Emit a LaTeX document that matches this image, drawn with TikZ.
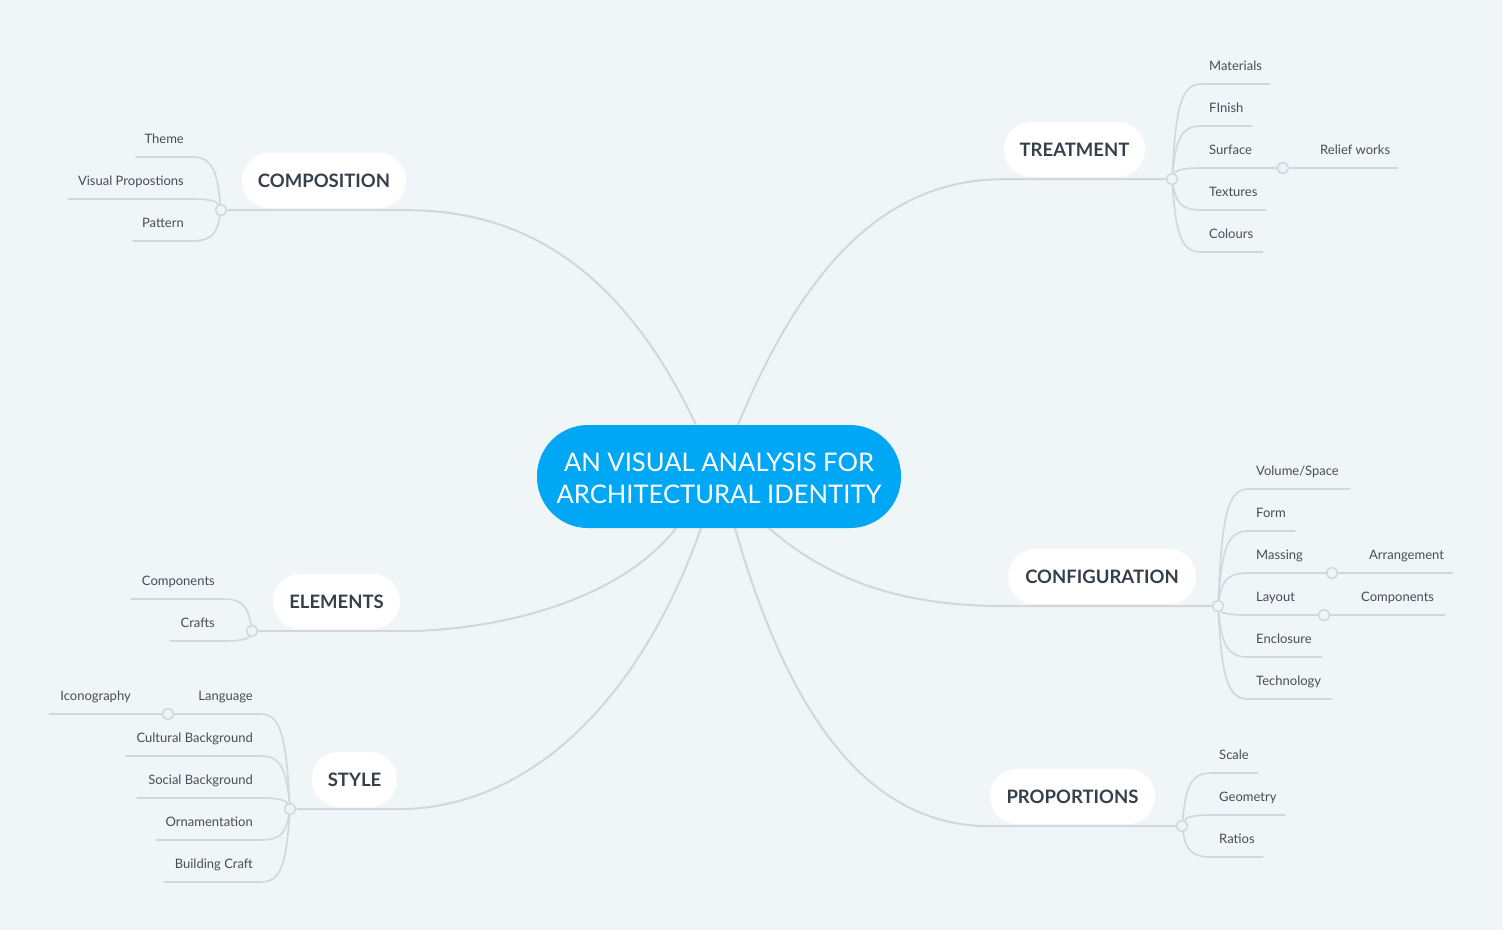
\documentclass[tikz,border=0pt]{standalone}
\usepackage{fontspec}
\setmainfont{Lato}
\usetikzlibrary{calc}
\definecolor{bgc}{HTML}{F0F5F8}
\definecolor{linec}{HTML}{D2D7DB}
\definecolor{ctrc}{HTML}{00A7F5}
\definecolor{headc}{HTML}{36404A}
\definecolor{leafc}{HTML}{454E57}
\pgfdeclarelayer{lines}
\pgfsetlayers{lines,main}
\tikzset{
  conn/.style={draw=linec, line width=1.6pt},
  mconn/.style={draw=linec, line width=2pt},
  junc/.style={circle, draw=linec, fill=bgc, line width=1.5pt, minimum size=11pt, inner sep=0pt},
  rleaf/.style={anchor=south west, inner xsep=8pt, inner ysep=13.5pt, text depth=0pt, text height=9pt, font=\fontsize{13}{15}\selectfont, text=leafc},
  lleaf/.style={rleaf, anchor=south east},
  ctr/.style={fill=ctrc, rounded corners=51pt, minimum width=364pt, minimum height=103pt, inner sep=0pt},
  ctrtext/.style={text=white, align=center, inner sep=0pt, yshift=-2pt, font=\fontsize{25.6}{32}\selectfont},
  head/.style={fill=white, rounded corners=27pt, minimum height=55pt, inner sep=0pt, text=headc, font=\bfseries\fontsize{18.5}{20}\selectfont}
}
\begin{document}
\begin{tikzpicture}[x=1pt,y=-1pt]
\useasboundingbox (0,0) rectangle (1503,930);
\begin{pgfonlayer}{lines}
\fill[bgc] (0,0) rectangle (1503,930);
\end{pgfonlayer}

% central node
\node[ctr, label={[ctrtext]center:AN VISUAL ANALYSIS FOR\\ARCHITECTURAL IDENTITY}] (c) at (719,476.5) {};

% headings
\node[head, minimum width=164pt] (hcomp) at (324,180.5) {COMPOSITION};
\node[head, minimum width=141pt] (htreat) at (1074.5,149.5) {TREATMENT};
\node[head, minimum width=188pt] (hconf) at (1102,576.5) {CONFIGURATION};
\node[head, minimum width=165pt] (hprop) at (1072.5,796.5) {PROPORTIONS};
\node[head, minimum width=127pt] (helem) at (336.5,601.5) {ELEMENTS};
\node[head, minimum width=85pt] (hstyle) at (354.5,779.5) {STYLE};

% junctions
\node[junc] (J1) at (1172,179) {};
\node[junc] (J2) at (221,210) {};
\node[junc] (J3) at (1218,606) {};
\node[junc] (J4) at (1182,826) {};
\node[junc] (J5) at (252,631) {};
\node[junc] (J6) at (290,809) {};
\node[junc] (S1) at (1283,168) {};
\node[junc] (S2) at (1332,573) {};
\node[junc] (S3) at (1324,615) {};
\node[junc] (S4) at (168,714) {};

% main connectors
\begin{pgfonlayer}{lines}
\draw[mconn] ($(c.north)+(-23,0)$) .. controls (620,265) and (520,210) .. ($(hcomp.south east)+(0,2)$) -- (J2);
\draw[mconn] ($(c.north)+(19,0)$) .. controls (800,275) and (880,179) .. ($(htreat.south west)+(0,2)$) -- (J1);
\draw[mconn] ($(c.south)+(50,0)$) .. controls (840,590) and (920,606) .. ($(hconf.south west)+(0,2)$) -- (J3);
\draw[mconn] ($(c.south)+(16,0)$) .. controls (790,720) and (870,826) .. ($(hprop.south west)+(0,2)$) -- (J4);
\draw[mconn] ($(c.south)+(-43,0)$) .. controls (620,600) and (500,631) .. ($(helem.south east)+(0,2)$) -- (J5);
\draw[mconn] ($(c.south)+(-18,0)$) .. controls (640,700) and (530,809) .. ($(hstyle.south east)+(0,2)$) -- (J6);
\end{pgfonlayer}

% TREATMENT leaves
\foreach \nm/\yy/\ww/\tx in {tm/84/53/Materials, tf/126/35/FInish, ts/168/46/Surface, tt/210/49/Textures, tc/252/46/Colours}{
  \node[rleaf] (\nm) at (1201,\yy) {\makebox[\ww pt][l]{\tx}};
  \begin{pgfonlayer}{lines}
  \draw[conn] (J1) .. controls (1176,{179+0.75*(\yy-179)}) and (1181,\yy) .. (\nm.south west) -- (\nm.south east);
  \end{pgfonlayer}
}
\node[rleaf] (trw) at (1312,168) {\makebox[70pt][l]{Relief works}};

% CONFIGURATION leaves
\foreach \nm/\yy/\ww/\tx in {cv/489/86/{Volume/Space}, cf/531/31/Form, cm/573/47/Massing, cl/615/39/Layout, ce/657/58/Enclosure, ct/699/68/Technology}{
  \node[rleaf] (\nm) at (1248,\yy) {\makebox[\ww pt][l]{\tx}};
  \begin{pgfonlayer}{lines}
  \draw[conn] (J3) .. controls (1222,{606+0.75*(\yy-606)}) and (1227,\yy) .. (\nm.south west) -- (\nm.south east);
  \end{pgfonlayer}
}
\node[rleaf] (car) at (1361,573) {\makebox[76pt][l]{Arrangement}};
\node[rleaf] (cco) at (1353,615) {\makebox[76pt][l]{Components}};

% PROPORTIONS leaves
\foreach \nm/\yy/\ww/\tx in {ps/773/31/Scale, pg/815/58/Geometry, pr/857/36/Ratios}{
  \node[rleaf] (\nm) at (1211,\yy) {\makebox[\ww pt][l]{\tx}};
  \begin{pgfonlayer}{lines}
  \draw[conn] (J4) .. controls (1186,{826+0.75*(\yy-826)}) and (1191,\yy) .. (\nm.south west) -- (\nm.south east);
  \end{pgfonlayer}
}

% COMPOSITION leaves
\foreach \nm/\yy/\ww/\tx in {mt/157/40/Theme, mv/199/108/Visual Propostions, mp/241/43/Pattern}{
  \node[lleaf] (\nm) at (192,\yy) {\makebox[\ww pt][r]{\tx}};
  \begin{pgfonlayer}{lines}
  \draw[conn] (J2) .. controls (217,{210+0.75*(\yy-210)}) and (212,\yy) .. (\nm.south east) -- (\nm.south west);
  \end{pgfonlayer}
}

% ELEMENTS leaves
\foreach \nm/\yy/\ww/\tx in {ec/599/76/Components, ecr/641/37/Crafts}{
  \node[lleaf] (\nm) at (223,\yy) {\makebox[\ww pt][r]{\tx}};
  \begin{pgfonlayer}{lines}
  \draw[conn] (J5) .. controls (248,{631+0.75*(\yy-631)}) and (243,\yy) .. (\nm.south east) -- (\nm.south west);
  \end{pgfonlayer}
}

% STYLE leaves
\foreach \nm/\yy/\ww/\tx in {sl/714/56/Language, sc/756/119/Cultural Background, ss/798/108/Social Background, so/840/89/Ornamentation, sb/882/81/Building Craft}{
  \node[lleaf] (\nm) at (261,\yy) {\makebox[\ww pt][r]{\tx}};
  \begin{pgfonlayer}{lines}
  \draw[conn] (J6) .. controls (286,{809+0.75*(\yy-809)}) and (281,\yy) .. (\nm.south east) -- (\nm.south west);
  \end{pgfonlayer}
}
\node[lleaf] (sic) at (139,714) {\makebox[74pt][r]{Iconography}};

% secondary connectors
\begin{pgfonlayer}{lines}
\draw[conn] (ts.south east) -- (S1) -- (trw.south west) -- (trw.south east);
\draw[conn] (cm.south east) -- (S2) -- (car.south west) -- (car.south east);
\draw[conn] (cl.south east) -- (S3) -- (cco.south west) -- (cco.south east);
\draw[conn] (sl.south west) -- (S4) -- (sic.south east) -- (sic.south west);
\end{pgfonlayer}
\end{tikzpicture}
\end{document}
